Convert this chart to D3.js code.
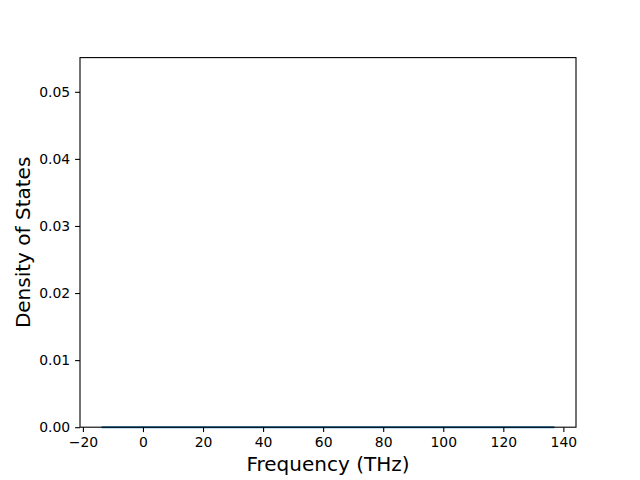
<!DOCTYPE html>
<html>
<head>
<meta charset="utf-8">
<script src="https://cdn.jsdelivr.net/npm/d3@7"></script>
<style>
  body { margin: 0; background: #fff; }
  svg { display: block; font-family: "DejaVu Sans", sans-serif; }
</style>
</head>
<body>
<svg id="chart" width="640" height="480"></svg>
<script>
// density of states, flat at zero over the whole frequency range
var frequency = [-13.46, 0, 25, 50, 75, 100, 125, 136.7];
var dos = [0, 0, 0, 0, 0, 0, 0, 0];
var xTicks = [-20, 0, 20, 40, 60, 80, 100, 120, 140];
var yTicks = [0, 0.01, 0.02, 0.03, 0.04, 0.05];

var svg = d3.select("#chart"),
    margin = {top: 57.6, right: 64, bottom: 52.8, left: 80},
    width = +svg.attr("width") - margin.left - margin.right,
    height = +svg.attr("height") - margin.top - margin.bottom,
    g = svg.append("g").attr("transform", "translate(" + margin.left + "," + margin.top + ")");

var data = frequency.map(function(f, i) { return {f: f, d: dos[i]}; });

var span = d3.max(frequency) - d3.min(frequency);
var x = d3.scaleLinear()
    .domain([d3.min(frequency) - span * 0.05, d3.max(frequency) + span * 0.05])
    .range([0, width]);

var y = d3.scaleLinear()
    .domain([0, 0.0551])
    .range([height, 0]);

var line = d3.line()
    .x(function(d) { return x(d.f); })
    .y(function(d) { return y(d.d); });

g.append("path")
    .datum(data)
    .attr("fill", "none")
    .attr("stroke", "#1f77b4")
    .attr("stroke-width", 2)
    .attr("stroke-linecap", "square")
    .attr("d", line);

var xAxis = g.append("g")
    .attr("transform", "translate(0," + height + ")")
    .call(d3.axisBottom(x).tickValues(xTicks).tickSize(4.9).tickPadding(4.9)
        .tickFormat(function(d) { return d < 0 ? "\u2212" + Math.abs(d) : d; }));

var yAxis = g.append("g")
    .call(d3.axisLeft(y).tickValues(yTicks).tickSize(4.9).tickPadding(4.9)
        .tickFormat(d3.format(".2f")));

[xAxis, yAxis].forEach(function(a) {
    a.select(".domain").remove();
    a.selectAll("line").attr("stroke", "#000").attr("stroke-width", 1.1);
    a.selectAll("text").attr("fill", "#000").style("font-size", "13.9px")
        .style("font-family", "DejaVu Sans");
});

// frame
g.append("rect")
    .attr("width", width)
    .attr("height", height)
    .attr("fill", "none")
    .attr("stroke", "#000")
    .attr("stroke-width", 1.1);

svg.append("text")
    .attr("x", margin.left + width / 2)
    .attr("y", 471)
    .attr("text-anchor", "middle")
    .style("font-size", "20px")
    .text("Frequency (THz)");

svg.append("text")
    .attr("transform", "translate(29.5," + (margin.top + height / 2) + ") rotate(-90)")
    .attr("text-anchor", "middle")
    .style("font-size", "20px")
    .text("Density of States");
</script>
</body>
</html>
